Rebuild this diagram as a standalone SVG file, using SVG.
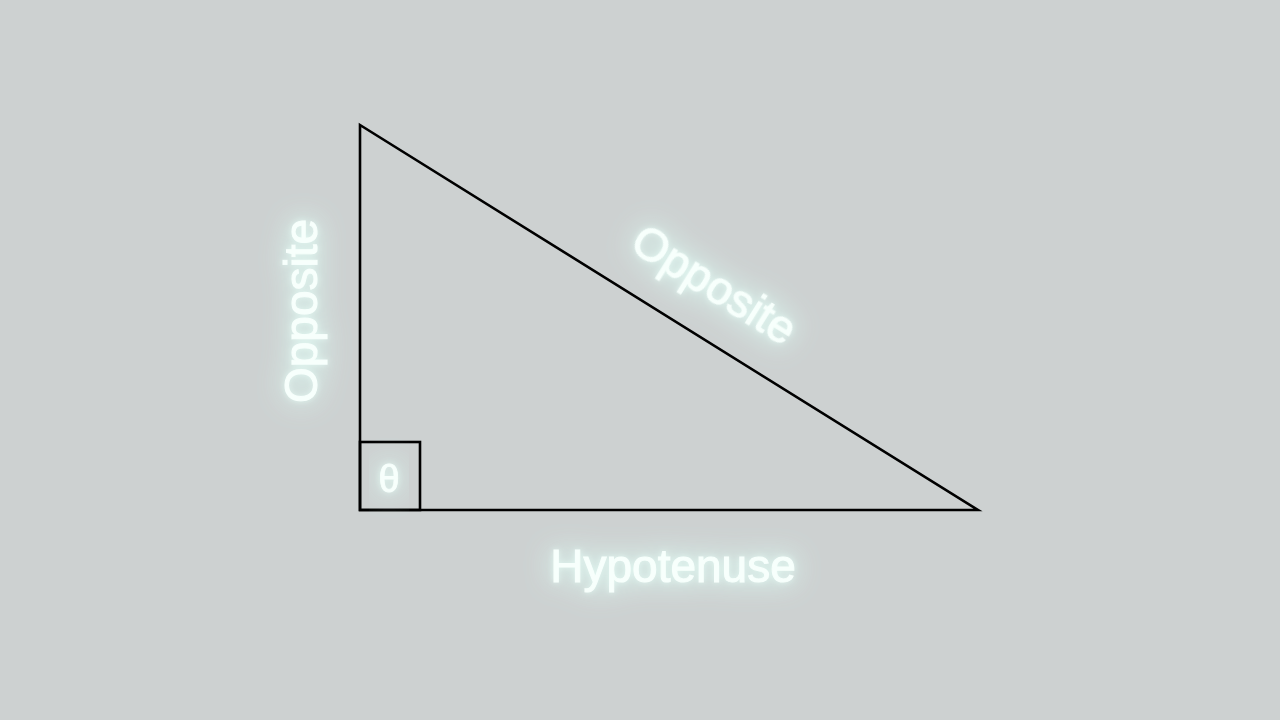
<svg xmlns="http://www.w3.org/2000/svg" width="1280" height="720" viewBox="0 0 1280 720">
  <defs>
    <filter id="glow" x="-40%" y="-60%" width="180%" height="220%">
      <feGaussianBlur in="SourceAlpha" stdDeviation="14" result="b1"/>
      <feFlood flood-color="#d9f5ee" flood-opacity="1"/>
      <feComposite in2="b1" operator="in" result="g1"/>
      <feGaussianBlur in="SourceAlpha" stdDeviation="3" result="b2"/>
      <feFlood flood-color="#e6fbf5" flood-opacity="0.85"/>
      <feComposite in2="b2" operator="in" result="g2"/>
      <feMerge>
        <feMergeNode in="g1"/>
        <feMergeNode in="g1"/>
        <feMergeNode in="g2"/>
        <feMergeNode in="SourceGraphic"/>
      </feMerge>
    </filter>
    <style>
      .edge { fill: none; stroke: #000; stroke-width: 2.6; stroke-linejoin: miter; }
      .lbl { font-family: "Liberation Sans", Arial, sans-serif; font-size: 46px; fill: #f7fffc; stroke: #f7fffc; stroke-width: 1; text-anchor: middle; filter: url(#glow); }
      .theta { font-family: "Liberation Sans", Arial, sans-serif; font-size: 38px; fill: #f7fffc; stroke: #f7fffc; stroke-width: 0.8; text-anchor: middle; filter: url(#glow); }
    </style>
  </defs>
  <rect width="1280" height="720" fill="#cdd1d1"/>
  <g id="connectors">
    <polygon id="triangle" class="edge" points="360,125 360,510 978,510"/>
  </g>
  <g id="right-angle">
    <rect class="edge" x="360" y="442" width="60" height="68" stroke-width="2.2"/>
    <text class="theta" x="389" y="492">θ</text>
  </g>
  <g id="label-left">
    <text class="lbl" transform="translate(317,311) rotate(-90)" x="0" y="0">Opposite</text>
  </g>
  <g id="label-hyp">
    <text class="lbl" transform="translate(706,298) rotate(32)" x="0" y="0">Opposite</text>
  </g>
  <g id="label-base">
    <text class="lbl" x="673" y="582">Hypotenuse</text>
  </g>
</svg>
